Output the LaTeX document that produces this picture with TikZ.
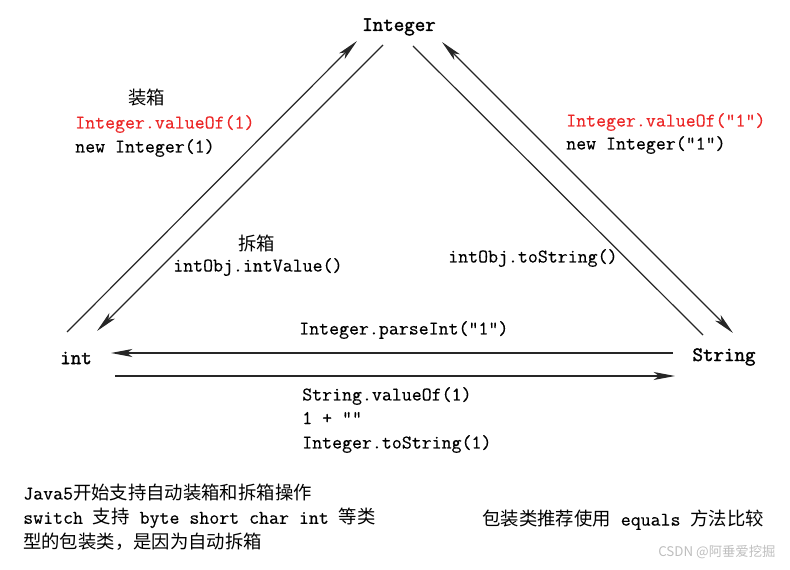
\documentclass[tikz,border=0pt]{standalone}
\usepackage{fontspec}
\newfontfamily\codefont[FakeBold=0.35]{Latin Modern Mono}
\newfontfamily\lblfont[FakeBold=1.8]{Latin Modern Mono}
\newfontfamily\cjk[Scale=0.95]{Noto Sans CJK SC}
\newfontfamily\wmfont{Noto Sans CJK SC}
\usetikzlibrary{arrows.meta}
\newcommand\zh[1]{{\cjk #1}}
\definecolor{redtxt}{RGB}{236,40,40}
\definecolor{wmgray}{RGB}{190,190,190}
\tikzset{
  conn/.style={line width=0.9pt, draw=black!85},
  tip/.style={-{Stealth[length=16pt,width=6pt,inset=4pt]}},
  bitip/.style={{Stealth[length=16pt,width=6pt,inset=4pt]}-{Stealth[length=16pt,width=6pt,inset=4pt]}},
  lbl/.style={inner sep=0pt, font=\fontsize{15.3}{18}\selectfont\lblfont},
  code/.style={inner sep=0pt, anchor=west, font=\fontsize{14.5}{18.2}\selectfont\codefont, text=black},
  redcode/.style={code, text=redtxt},
}
\begin{document}
\begin{tikzpicture}[x=0.75pt,y=-0.75pt]
\useasboundingbox (0,0) rectangle (790,570);
% main labels
\node[lbl] (integer) at (399,27) {Integer};
\node[lbl] (int) at (76,358) {int};
\node[lbl] (string) at (724,357) {String};
% connector ends
\coordinate (l1s) at (67,332);
\coordinate (l1e) at (357,41);
\coordinate (l2s) at (383,45);
\coordinate (l2e) at (97,331);
\coordinate (r1s) at (413,46);
\coordinate (r1e) at (703,335);
\coordinate (r2s) at (442,42);
\coordinate (r2e) at (733,333);
\coordinate (h1s) at (673,353);
\coordinate (h1e) at (111,353);
\coordinate (h2s) at (115,376);
\coordinate (h2e) at (675,376);
% connectors
\draw[conn,tip] (l1s) -- (l1e);
\draw[conn,tip] (l2s) -- (l2e);
\draw[conn] (r1s) -- (r1e);
\draw[conn,bitip] (r2s) -- (r2e);
\draw[conn,tip] (h1s) -- (h1e);
\draw[conn,tip] (h2s) -- (h2e);
% texts
\node[code] (box) at (128,98) {\zh{装箱}};
\node[redcode] (vo1) at (75,124) {Integer.valueOf(1)};
\node[code] (ni1) at (75,148) {new Integer(1)};
\node[redcode] (vo2) at (566,122) {Integer.valueOf(”1”)};
\node[code] (ni2) at (566,145) {new Integer(”1”)};
\node[code] (unbox) at (238,243) {\zh{拆箱}};
\node[code] (iv) at (173,267) {intObj.intValue()};
\node[code] (tostr) at (448,258) {intObj.toString()};
\node[code] (parse) at (299,330) {Integer.parseInt(”1”)};
\node[code] (sv) at (302,396) {String.valueOf(1)};
\node[code] (plus) at (302,418) {1 + ””};
\node[code] (its) at (302,444) {Integer.toString(1)};
\node[code, align=left] (note1) at (23,517) {Java5\zh{开始支持自动装箱和拆箱操作}\\switch \zh{支持} byte short char int \zh{等类}\\\zh{型的包装类，是因为自动拆箱}};
\node[code] (note2) at (482,520) {\zh{包装类推荐使用} equals \zh{方法比较}};
\node[inner sep=0pt, anchor=west, text=wmgray, font=\fontsize{10}{12}\selectfont\wmfont] (wm) at (658,552) {CSDN @阿垂爱挖掘};
\end{tikzpicture}
\end{document}
